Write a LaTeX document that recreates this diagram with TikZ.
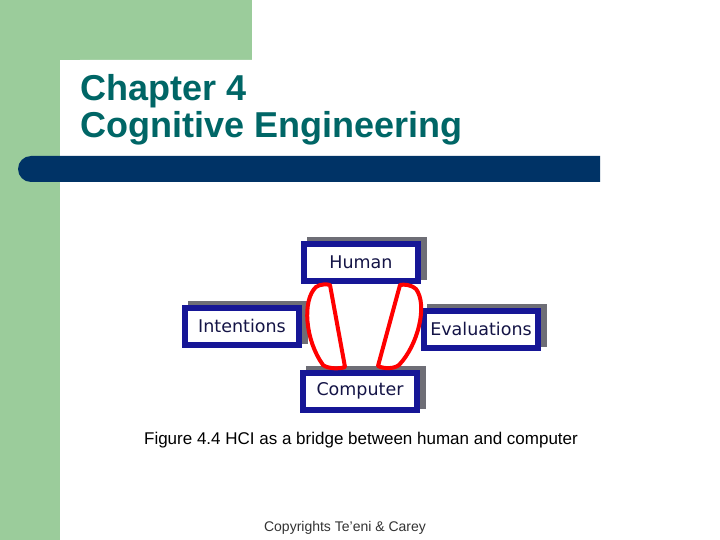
\documentclass[tikz,border=0pt]{standalone}
\usepackage{fontspec}
\setmainfont{Liberation Sans}
\newfontfamily\boxfont{DejaVu Sans}
\usepackage{xcolor}
\usepackage{tikz}
\usetikzlibrary{shadows}
\usetikzlibrary{positioning}
\usetikzlibrary{calc}
\definecolor{slidegreen}{RGB}{155,204,155}
\definecolor{barblue}{RGB}{0,51,102}
\definecolor{titleteal}{RGB}{0,102,102}
\definecolor{boxblue}{RGB}{22,22,150}
\definecolor{boxtext}{RGB}{20,20,70}
\definecolor{boxshadow}{RGB}{110,110,118}
\tikzstyle{hcibox}=[rectangle,draw=boxblue,line width=6pt,fill=white,minimum width=114pt,minimum height=37pt,inner sep=0pt,font=\boxfont\fontsize{17.5}{20}\selectfont,text=boxtext,drop shadow={shadow xshift=6pt,shadow yshift=3.5pt,fill=boxshadow,draw=boxshadow,line width=6pt,opacity=1}]
\tikzstyle{bridge} = [draw=red,line width=4pt,line join=round]
\tikzstyle{titletext}=[anchor=base west,inner sep=0pt,text=titleteal,font=\fontsize{36}{42}\selectfont\bfseries]

\begin{document}
\begin{tikzpicture}[x=1pt,y=-1pt]
    \useasboundingbox (0,0) rectangle (720,540);
    \fill[white] (0,0) rectangle (720,540);

    % green corner and white panel
    \fill[slidegreen] (0,0) rectangle (252,60);
    \fill[slidegreen] (0,0) rectangle (60,540);
    \fill[white, rounded corners=20pt] (60,600) -- (60,60) -- (300,60) -- (300,600) -- cycle;
    \fill[barblue, rounded corners=13pt] (600,156) -- (18,156) -- (18,182) -- (600,182);

    \node[titletext] (chapter) at (80,101) {Chapter 4};
    \node[titletext] (subject) at (80,138) {Cognitive Engineering};

    \foreach \pos/ \name/ \label in {{(361,262)/human/Human}, {(242,326)/intentions/Intentions}, {(481,329)/evaluations/Evaluations}, {(360,391)/computer/Computer}}
        \node[hcibox] (\name) at \pos {\label};

    % the two sides of the bridge
    \path[bridge] (330,285) -- (345,367) .. controls (340,369) and (328,369) .. (323,365)
        .. controls (305,340) and (302,300) .. (316,287) .. controls (320,284) and (327,284) .. cycle;
    \path[bridge] (400,285) -- (378,366) .. controls (384,369) and (394,369) .. (399,365)
        .. controls (418,345) and (428,305) .. (416,289) .. controls (412,285) and (404,284) .. cycle;

    \node[anchor=base,inner sep=0pt,font=\fontsize{17}{20}\selectfont] (caption) at (361,444) {Figure 4.4 HCI as a bridge between human and computer};
    \node[anchor=base,inner sep=0pt,text=black!80,font=\fontsize{14}{17}\selectfont] (footer) at (345,531) {Copyrights Te'eni \& Carey};
\end{tikzpicture}
\end{document}
